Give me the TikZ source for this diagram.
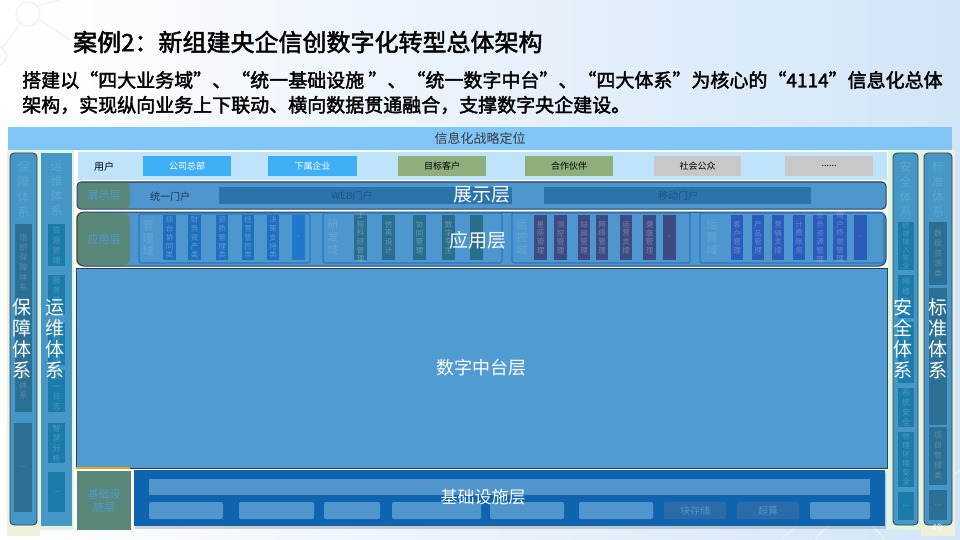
\documentclass[tikz,border=0pt]{standalone}
\usepackage{fontspec}
\setmainfont{Noto Sans CJK SC}
\newfontfamily\boldcjk[FakeBold=2]{Noto Sans CJK SC}
\usetikzlibrary{shadows}
\definecolor{bgR}{HTML}{D2E5F8}
\definecolor{hdr}{HTML}{80C6F9}
\definecolor{userbg}{HTML}{BFE3FB}
\definecolor{bright}{HTML}{3FAFF5}
\definecolor{olive}{HTML}{8FAE7C}
\definecolor{greybox}{HTML}{C8C8C8}
\definecolor{layer}{HTML}{4D97CE}
\definecolor{darkbar}{HTML}{2B74AB}
\definecolor{darkbartxt}{HTML}{1E5288}
\definecolor{lbl}{HTML}{5A8878}
\definecolor{lbltxt}{HTML}{4E9BD2}
\definecolor{outline}{HTML}{2C3E50}
\definecolor{grpline}{HTML}{2A78C8}
\definecolor{itA}{HTML}{1E6FBD}
\definecolor{itAd}{HTML}{1F78CA}
\definecolor{itB}{HTML}{2A6E8E}
\definecolor{itC}{HTML}{3E4B82}
\definecolor{itD}{HTML}{2B5BBB}
\definecolor{mid}{HTML}{519BD3}
\definecolor{infra}{HTML}{0F64B0}
\definecolor{infraIn}{HTML}{5095CB}
\definecolor{infraDk}{HTML}{2C6BA8}
\definecolor{col}{HTML}{4597C7}
\definecolor{colboxA}{HTML}{2B6F92}
\definecolor{colboxB}{HTML}{1B7CAB}
\definecolor{beige}{HTML}{EEF0DA}
\definecolor{mint}{HTML}{DEF5DE}
\definecolor{orng}{HTML}{E8A317}
\definecolor{deco}{HTML}{EBF2FA}
\definecolor{hdrtxt}{HTML}{3A3A3A}
\definecolor{portaltxt}{HTML}{1E3550}
\tikzset{
  bx/.style={inner sep=0pt, outer sep=0pt, anchor=north west},
  vtx/.style={font=\fontsize{7.5}{8.7}\selectfont, align=center, inner sep=0pt, text=white, text opacity=0.3},
  ctx/.style={font=\fontsize{8}{10}\selectfont, align=center, inner sep=0pt, text=white, text opacity=0.22},
  ftitle/.style={font=\fontsize{12}{15}\selectfont, align=center, inner sep=0pt, text=white, text opacity=0.14},
  gtitle/.style={font=\fontsize{11}{13}\selectfont, align=center, inner sep=0pt, text=white, text opacity=0.14},
  bigv/.style={font=\fontsize{19}{21}\selectfont, align=center, inner sep=0pt, text=white},
  bigh/.style={font=\fontsize{19}{19}\selectfont, inner sep=0pt, text=white},
  grp/.style={fill=layer, draw=grpline, line width=1.2pt, rounded corners=2pt},
  ubox/.style={font=\fontsize{9}{9}\selectfont},
  sbox/.style={fill=infraIn, rounded corners=2pt},
  dbox/.style={fill=infraDk, rounded corners=2pt, font=\fontsize{10}{10}\selectfont, text=infraIn},
}
\newcommand\rb[7]{\node[bx,#6,minimum width={(#4)-(#2)},minimum height={(#5)-(#3)}] (#1) at (#2,#3) {#7};}
\newcommand\vit[5]{\rb{#1}{#2}{215}{#3}{260}{fill=#4}{}\node[vtx] at (#1.center) {#5};}
\newcommand\cbx[7]{\rb{#1}{#2}{#3}{#4}{#5}{fill=#6}{}\node[ctx] at (#1.center) {#7};}
\begin{document}
\begin{tikzpicture}[x=1pt,y=-1pt]
\useasboundingbox (0,0) rectangle (960,540);
\shade[left color=white, right color=bgR] (0,0) rectangle (960,540);
% faint decoration
\draw[deco, line width=1.2pt] (28,14) circle (12) (-4,56) circle (10) (38,6) -- (78,-6) (20,24) -- (2,48) (40,20) -- (70,40);
\draw[deco, line width=1.2pt] (850,560) circle (40) (900,520) -- (960,470) (780,540) -- (830,500);
% titles
\node[anchor=west, inner sep=0pt, font=\boldcjk\fontsize{24}{24}\selectfont] (title) at (73,42) {案例2：新组建央企信创数字化转型总体架构};
\node[anchor=west, inner sep=0pt, font=\boldcjk\fontsize{19}{19}\selectfont] (sub1) at (22,80) {搭建以“四大业务域”、“统一基础设施 ”、“统一数字中台”、“四大体系”为核心的“4114”信息化总体};
\node[anchor=west, inner sep=0pt, font=\boldcjk\fontsize{19}{19}\selectfont] (sub2) at (22,105) {架构，实现纵向业务上下联动、横向数据贯通融合，支撑数字央企建设。};
% header
\rb{hdr}{8}{127}{952}{150}{fill=hdr, drop shadow={shadow xshift=0pt, shadow yshift=-2pt, opacity=0.3}, font=\fontsize{13}{13}\selectfont, text=hdrtxt}{信息化战略定位}
% background strips
\rb{bzs}{7}{150}{40}{536}{fill=beige}{}
\rb{yws}{40}{150}{74}{530}{fill=mint}{}
\rb{aqs}{887}{150}{921}{530}{fill=mint}{}
\rb{bzhs}{921}{150}{955}{536}{fill=beige}{}
\rb{panel}{74}{150}{888}{470}{fill=white}{}
% ---- left column: 保障体系
\rb{bz}{10}{153}{37}{525}{fill=col, draw=outline, line width=0.8pt, rounded corners=4pt}{}
\node[ftitle] (bzt) at (23.5,189) {保\\障\\体\\系};
\rb{bzb1}{15}{224}{32}{412}{fill=colboxA}{}
\node[ctx] (bzb1a) at (23.5,262) {组\\织\\保\\障\\体\\系};
\node[ctx] (bzb1b) at (23.5,370) {技\\术\\保\\障\\体\\系};
\cbx{bzb2}{14}{423}{32}{512}{colboxA}{...}
% ---- 运维体系
\rb{yw}{41}{153}{72}{526}{fill=col}{}
\node[ftitle] (ywt) at (56.5,189) {运\\维\\体\\系};
\cbx{yw1}{48}{224}{65}{266}{colboxB}{资\\源\\管\\理}
\cbx{yw2}{48}{275}{65}{315}{colboxB}{服\\务\\管\\理}
\cbx{yw3}{48}{323}{65}{365}{colboxB}{监\\控\\管\\理}
\cbx{yw4}{48}{370}{65}{412}{colboxB}{统\\一\\日\\志}
\cbx{yw5}{48}{423}{65}{463}{colboxB}{智\\慧\\分\\析}
\cbx{yw6}{48}{472}{65}{512}{colboxB}{...}
% ---- 安全体系
\rb{aq}{893}{153}{918}{525}{fill=col, draw=outline, line width=0.8pt, rounded corners=4pt}{}
\node[ftitle] (aqt) at (905.5,189) {安\\全\\体\\系};
\rb{aq1}{898}{222}{914}{270}{fill=colboxB}{}
\node[ctx, font=\fontsize{7}{8}\selectfont] (aq1t) at (aq1.center) {终\\端\\接\\入\\安\\全};
\cbx{aq2}{898}{275}{914}{318}{colboxB}{网\\络\\安\\全}
\cbx{aq3}{898}{322}{914}{383}{colboxB}{数\\据\\安\\全}
\cbx{aq4}{898}{388}{914}{427}{colboxB}{系\\统\\安\\全}
\rb{aq5}{898}{432}{914}{487}{fill=colboxB}{}
\node[ctx, font=\fontsize{7.5}{9}\selectfont] (aq5t) at (aq5.center) {物\\理\\环\\境\\安\\全};
\cbx{aq6}{898}{492}{914}{520}{colboxB}{...}
% ---- 标准体系
\rb{bzh}{924}{153}{952}{525}{fill=col, draw=outline, line width=0.8pt, rounded corners=4pt}{}
\node[ftitle] (bzht) at (938,189) {标\\准\\体\\系};
\cbx{bzh1}{929}{222}{947}{285}{colboxA}{数\\据\\资\\源\\类}
\cbx{bzh2}{929}{288}{947}{425}{colboxA}{数\\字\\中\\台\\类}
\cbx{bzh3}{929}{427}{947}{485}{colboxA}{项\\目\\管\\理\\类}
\cbx{bzh4}{929}{490}{947}{520}{colboxA}{...}
% ---- users row
\rb{urow}{78}{152}{887}{180}{fill=userbg}{}
\node[font=\fontsize{10}{10}\selectfont, inner sep=0pt] (ulbl) at (104,167) {用户};
\rb{u1}{143}{156}{231}{176}{fill=bright, text=white, ubox}{公司总部}
\rb{u2}{268}{156}{357}{176}{fill=bright, text=white, ubox}{下属企业}
\rb{u3}{398}{156}{486}{176}{fill=olive, text=black, ubox}{目标客户}
\rb{u4}{525}{156}{613}{176}{fill=olive, text=black, ubox}{合作伙伴}
\rb{u5}{654}{156}{741}{176}{fill=greybox, text=black, ubox}{社会公众}
\rb{u6}{785}{156}{873}{176}{fill=greybox, text=black, ubox}{......}
% ---- 展示层
\rb{zs}{77}{182}{886}{209}{fill=layer, draw=outline, line width=1pt, rounded corners=4pt}{}
\rb{zslbl}{78}{183}{130}{208}{fill=lbl, rounded corners=3pt, font=\fontsize{11}{11}\selectfont, text=lbltxt}{展示层}
\node[font=\fontsize{10}{10}\selectfont, text=portaltxt, inner sep=0pt] (tymh) at (170,197) {统一门户};
\rb{web}{219}{187}{512}{204}{fill=darkbar}{}
\node[font=\fontsize{10}{10}\selectfont, text=darkbartxt, inner sep=0pt] (webt) at (352,196) {WEB门户};
\rb{mob}{544}{187}{811}{204}{fill=darkbar}{}
\node[font=\fontsize{10}{10}\selectfont, text=darkbartxt, inner sep=0pt] (mobt) at (678,196) {移动门户};
\node[bigh] (zsbig) at (482,195) {展示层};
% ---- 应用层
\rb{yyor}{76}{212}{130}{266}{fill=orng, rounded corners=6pt}{}
\rb{yy}{77}{212}{886}{266}{fill=layer, draw=outline, line width=1pt, rounded corners=7pt}{}
\rb{yylbl}{78}{213}{130}{265}{fill=lbl, rounded corners=6pt, font=\fontsize{11}{11}\selectfont, text=lbltxt}{应用层}
\rb{g1}{139}{214}{310}{263}{grp}{}
\rb{g2}{323}{213}{502}{263}{grp}{}
\rb{g3}{512}{213}{690}{263}{grp}{}
\rb{g4}{700}{213}{884}{263}{grp}{}
\node[gtitle] (g1t) at (148,238) {管\\理\\域};
\node[gtitle] (g2t) at (333,238) {研\\发\\域};
\node[gtitle] (g3t) at (522,238) {运\\控\\域};
\node[gtitle] (g4t) at (712,238) {运\\营\\域};
\vit{a1}{163}{176}{itA}{综\\合\\协\\同\\类}
\vit{a2}{188}{201}{itA}{财\\务\\资\\产\\类}
\vit{a3}{216}{228}{itA}{资\\质\\管\\理\\类}
\vit{a4}{242}{254}{itA}{经\\营\\管\\控\\类}
\vit{a5}{267}{279}{itA}{决\\策\\支\\持\\类}
\vit{a6}{292}{305}{itAd}{-}
\vit{b1}{354}{367}{itB}{工\\程\\科\\研\\管\\理}
\vit{b2}{382}{395}{itB}{仿\\真\\设\\计}
\vit{b3}{413}{426}{itB}{协\\同\\管\\理}
\vit{b4}{442}{455}{itB}{数\\字\\孪\\生}
\vit{b5}{470}{483}{itB}{}
\vit{c1}{534}{547}{itC}{星\\座\\管\\理}
\vit{c2}{554}{567}{itC}{测\\控\\管\\理}
\vit{c3}{578}{590}{itC}{站\\网\\管\\理}
\vit{c4}{596}{608}{itC}{网\\络\\管\\理}
\vit{c5}{620}{632}{itC}{运\\营\\支\\撑}
\vit{c6}{643}{656}{itC}{健\\康\\管\\理}
\vit{c7}{663}{676}{itC}{-}
\vit{d1}{731}{743}{itD}{客\\户\\管\\理}
\vit{d2}{752}{764}{itD}{产\\品\\管\\理}
\vit{d3}{772}{784}{itD}{营\\销\\支\\撑}
\vit{d4}{793}{805}{itD}{计\\费\\账\\务}
\vit{d5}{813}{827}{itD}{业\\务\\资\\源\\管\\理}
\vit{d6}{833}{847}{itD}{用\\户\\终\\端\\管\\理}
\vit{d7}{854}{867}{itD}{-}
\node[bigh] (yybig) at (478,240) {应用层};
% ---- 数字中台层
\rb{zt}{76}{268}{887}{468}{fill=mid, draw=outline, line width=0.8pt}{}
\draw[orng, line width=1.5pt] (zt.south west) -- ([xshift=54pt]zt.south west);
\node[bigh, font=\fontsize{18}{18}\selectfont] (ztbig) at (481,368) {数字中台层};
% ---- 基础设施层
\rb{jclbl}{77}{471}{131}{530}{fill=lbl, align=center, font=\fontsize{11}{13}\selectfont, text=lbltxt}{基础设\\施层}
\rb{jc}{134}{470}{885}{526}{fill=infra, drop shadow={shadow xshift=1pt, shadow yshift=-3pt, opacity=0.35}}{}
\rb{jcbar}{149}{479}{870}{495}{fill=infraIn}{}
\rb{s1}{149}{502}{223}{519}{sbox}{}
\rb{s2}{239}{502}{314}{519}{sbox}{}
\rb{s3}{324}{502}{380}{519}{sbox}{}
\rb{s4}{392}{502}{481}{519}{sbox}{}
\rb{s5}{490}{502}{564}{519}{sbox}{}
\rb{s6}{579}{502}{653}{519}{sbox}{}
\rb{s7}{664}{502}{726}{519}{dbox}{块存储}
\rb{s8}{737}{502}{799}{519}{dbox}{超算}
\rb{s9}{810}{502}{870}{519}{sbox}{}
\node[bigh, font=\fontsize{17}{17}\selectfont] (jcbig) at (483,497) {基础设施层};
% ---- big overlay texts on columns
\node[bigv] (bzbig) at (22,339) {保\\障\\体\\系};
\node[bigv] (ywbig) at (55,339) {运\\维\\体\\系};
\node[bigv] (aqbig) at (903,339) {安\\全\\体\\系};
\node[bigv] (bzhbig) at (938,339) {标\\准\\体\\系};
\node[font=\fontsize{10}{10}\selectfont, text=white, text opacity=0.85, inner sep=0pt] (pg) at (937,528) {49};
\end{tikzpicture}
\end{document}
